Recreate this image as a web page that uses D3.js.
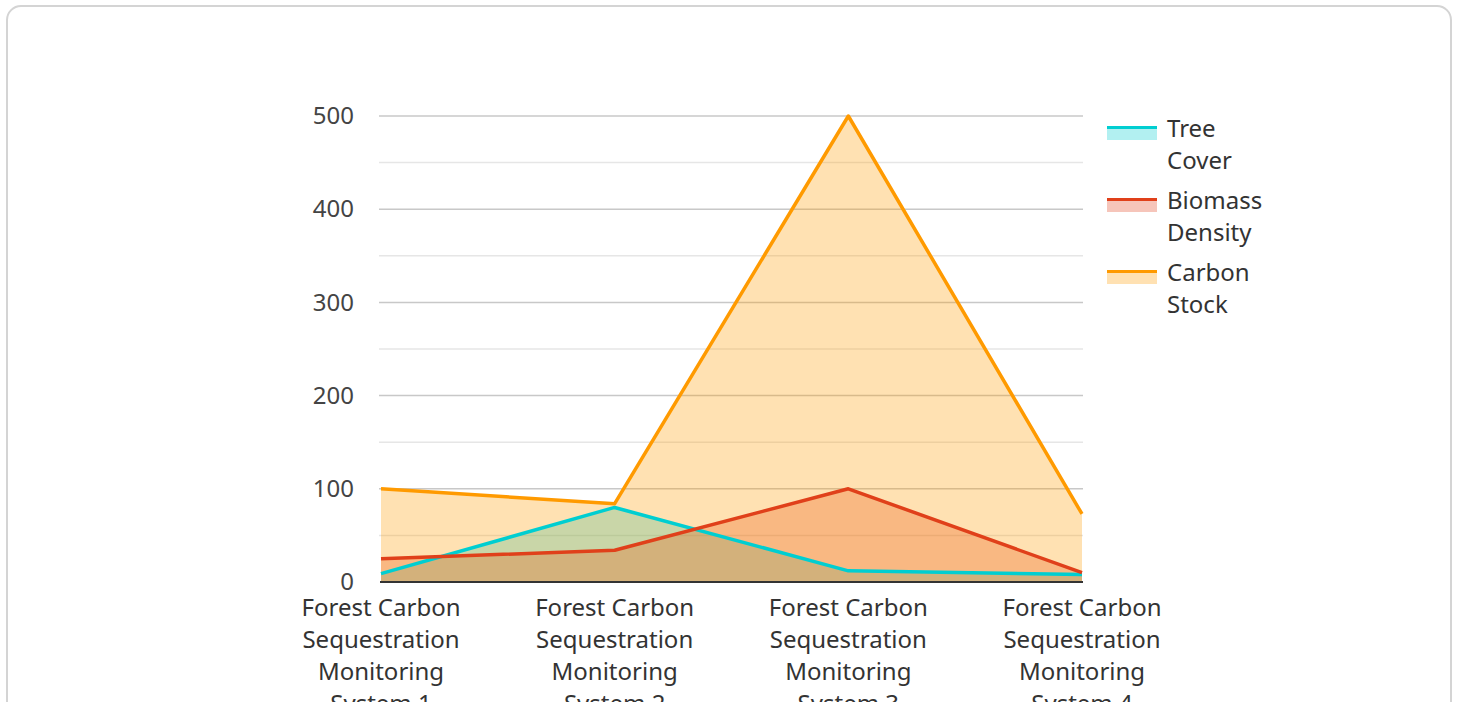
<!DOCTYPE html>
<html>
<head>
<meta charset="utf-8">
<script src="https://cdn.jsdelivr.net/npm/d3@7/dist/d3.min.js"></script>
<style>
  html, body { margin: 0; padding: 0; background: #fff; }
  svg { display: block; font-family: "Noto Sans", "Open Sans", sans-serif; }
</style>
</head>
<body>
<svg id="chart" width="1458" height="702"></svg>
<script>
// Monitoring systems along the x axis
const categories = [
  "Forest Carbon Sequestration Monitoring System 1",
  "Forest Carbon Sequestration Monitoring System 2",
  "Forest Carbon Sequestration Monitoring System 3",
  "Forest Carbon Sequestration Monitoring System 4"
];
const categoryLines = [
  ["Forest Carbon", "Sequestration", "Monitoring", "System 1"],
  ["Forest Carbon", "Sequestration", "Monitoring", "System 2"],
  ["Forest Carbon", "Sequestration", "Monitoring", "System 3"],
  ["Forest Carbon", "Sequestration", "Monitoring", "System 4"]
];

// Series values per system
const treeCover = [9, 80, 12, 8];
const biomassDensity = [25, 34, 100, 10];
const carbonStock = [100, 84, 500, 73];

const seriesNames = ["Tree Cover", "Biomass Density", "Carbon Stock"];
const seriesLegendLines = [["Tree", "Cover"], ["Biomass", "Density"], ["Carbon", "Stock"]];
const seriesColors = ["#00CED1", "#E0401A", "#FF9A00"];

const yTicks = [0, 100, 200, 300, 400, 500];
const yMinorTicks = [50, 150, 250, 350, 450];

const series = [treeCover, biomassDensity, carbonStock].map((values, i) => ({
  name: seriesNames[i],
  legend: seriesLegendLines[i],
  color: seriesColors[i],
  values
}));

const FONT_SIZE = 24;

const svg = d3.select("#chart");

// Card frame
svg.append("rect")
  .attr("x", 7).attr("y", 6)
  .attr("width", 1444).attr("height", 740)
  .attr("rx", 14).attr("ry", 14)
  .attr("fill", "#fff")
  .attr("stroke", "#d4d4d4")
  .attr("stroke-width", 2);

const x = d3.scalePoint()
  .domain(categories)
  .range([381, 1082]);

const y = d3.scaleLinear()
  .domain([0, 500])
  .range([582, 116]);

const plot = svg.append("g");

// Minor grid
plot.append("g")
  .selectAll("line")
  .data(yMinorTicks)
  .join("line")
  .attr("x1", 379).attr("x2", 1083)
  .attr("y1", d => y(d)).attr("y2", d => y(d))
  .attr("stroke", "#e6e6e6")
  .attr("stroke-width", 1.5);

// Major grid
plot.append("g")
  .selectAll("line")
  .data(yTicks.filter(d => d > 0))
  .join("line")
  .attr("x1", 379).attr("x2", 1083)
  .attr("y1", d => y(d)).attr("y2", d => y(d))
  .attr("stroke", "#c8c8c8")
  .attr("stroke-width", 1.5);

// Y axis labels
const yAxis = d3.axisLeft(y)
  .tickValues(yTicks)
  .tickSize(0)
  .tickPadding(27);
const yg = plot.append("g").attr("transform", "translate(381,0)").call(yAxis);
yg.select(".domain").remove();
yg.selectAll("text")
  .attr("fill", "#444")
  .attr("font-size", FONT_SIZE)
  .attr("font-family", "Noto Sans, Open Sans, sans-serif");

const area = d3.area()
  .x((d, i) => x(categories[i]))
  .y0(y(0))
  .y1(d => y(d));

const line = d3.line()
  .x((d, i) => x(categories[i]))
  .y(d => y(d));

// Filled areas
series.forEach(s => {
  plot.append("path")
    .datum(s.values)
    .attr("d", area)
    .attr("fill", s.color)
    .attr("fill-opacity", 0.3);
});

// Lines
series.forEach(s => {
  plot.append("path")
    .datum(s.values)
    .attr("d", line)
    .attr("fill", "none")
    .attr("stroke", s.color)
    .attr("stroke-width", 3.5)
    .attr("stroke-linejoin", "round");
});

// X axis baseline
plot.append("line")
  .attr("x1", 380).attr("x2", 1083)
  .attr("y1", y(0)).attr("y2", y(0))
  .attr("stroke", "#333")
  .attr("stroke-width", 2);

// X labels (wrapped)
const xg = plot.append("g");
categories.forEach((c, i) => {
  const t = xg.append("text")
    .attr("x", x(c))
    .attr("y", 616)
    .attr("text-anchor", "middle")
    .attr("fill", "#333")
    .attr("font-size", FONT_SIZE);
  categoryLines[i].forEach((ln, j) => {
    t.append("tspan")
      .attr("x", x(c))
      .attr("dy", j === 0 ? 0 : 32)
      .text(ln);
  });
});

// Legend
const legend = svg.append("g");
series.forEach((s, i) => {
  const gy = 126 + i * 72;
  const g = legend.append("g").attr("transform", `translate(1107,${gy})`);
  g.append("rect")
    .attr("x", 0).attr("y", 0)
    .attr("width", 50).attr("height", 14)
    .attr("fill", s.color)
    .attr("fill-opacity", 0.3);
  g.append("rect")
    .attr("x", 0).attr("y", 0)
    .attr("width", 50).attr("height", 3)
    .attr("fill", s.color);
  const t = g.append("text")
    .attr("x", 60)
    .attr("y", 11)
    .attr("fill", "#333")
    .attr("font-size", FONT_SIZE);
  s.legend.forEach((ln, j) => {
    t.append("tspan")
      .attr("x", 60)
      .attr("dy", j === 0 ? 0 : 32)
      .text(ln);
  });
});
</script>
</body>
</html>
